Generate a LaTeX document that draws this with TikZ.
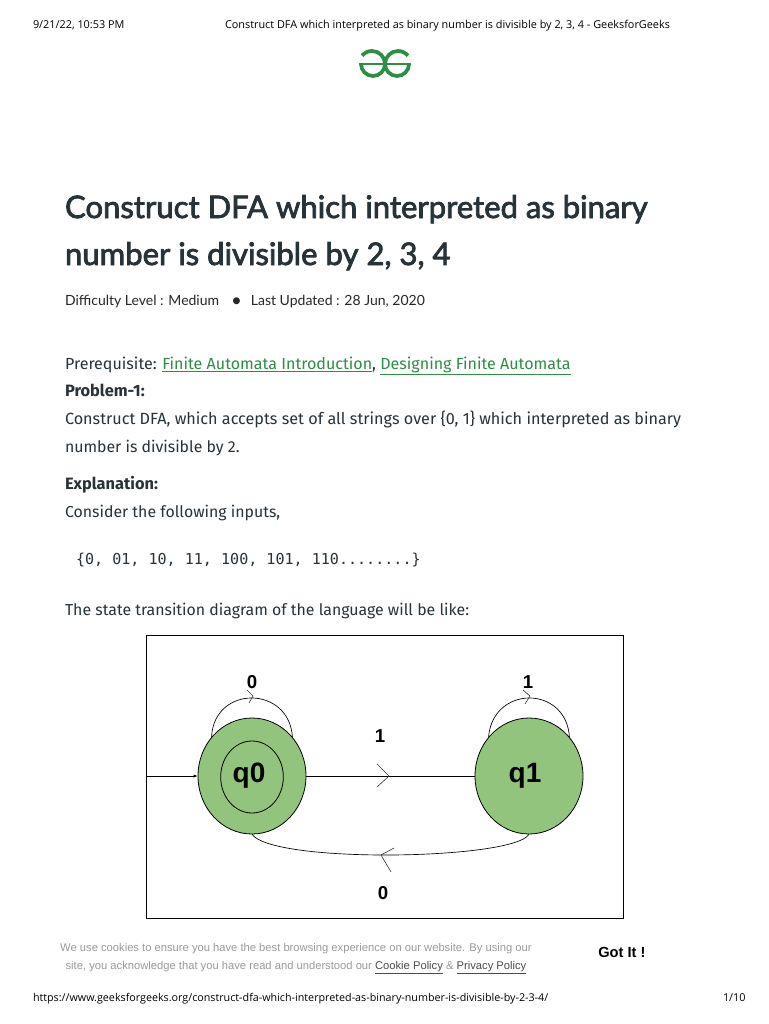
\documentclass[tikz,border=0pt]{standalone}
\usepackage{fontspec}
\usetikzlibrary{shapes.geometric,arrows.meta}
\setmainfont{Fira Sans}
\newfontfamily\titlefont[FakeBold=2.5]{Lato}
\newfontfamily\metafont{Lato}
\newfontfamily\headfont{Open Sans}
\newfontfamily\diagfont{Liberation Sans}
\newfontfamily\codefont{DejaVu Sans Mono}
\definecolor{ink}{HTML}{273239}
\definecolor{gfg}{HTML}{2F8D46}
\definecolor{stategreen}{HTML}{93C47D}
\definecolor{cookie}{HTML}{9A9A9A}
\newcommand{\fs}[1]{\fontsize{#1}{#1}\selectfont}
\newcommand{\lnk}[1]{\textcolor{gfg}{\underline{#1}}}
\tikzset{
  x=0.75pt,y=-0.75pt,
  txt/.style={anchor=base west,inner sep=0pt,outer sep=0pt,text=ink},
  head/.style={txt,text=black,font=\headfont\fs{8.15}},
  titletxt/.style={txt,font=\titlefont\fs{23.3}},
  meta/.style={txt,text=black!85,font=\metafont\fs{10.5}},
  body/.style={txt,font=\fs{11.9}},
  bodyb/.style={txt,font=\bfseries\fs{12.3}},
  code/.style={txt,font=\codefont\fs{11.3}},
  cook/.style={anchor=base,inner sep=0pt,outer sep=0pt,text=cookie,font=\diagfont\fs{8.4}},
  state/.style={ellipse,draw=black,fill=stategreen,line width=0.6pt,minimum width=81pt,minimum height=87pt,inner sep=0pt},
  innerring/.style={ellipse,draw=black,line width=0.6pt,minimum width=47pt,minimum height=54pt,inner sep=0pt},
  statelab/.style={inner sep=0pt,font=\diagfont\bfseries\fs{21}},
  lab/.style={inner sep=0pt,font=\diagfont\bfseries\fs{14}},
  wire/.style={draw=black,line width=0.5pt},
  chev/.style={draw=black!80,line width=0.45pt},
  logo/.style={draw=gfg,line width=2.8pt},
  logobar/.style={draw=gfg,line width=1.3pt}
}
\begin{document}
\begin{tikzpicture}
\useasboundingbox[fill=white] (0,0) rectangle (768,1024);
% header
\node[head] (date) at (33,29) {9/21/22, 10:53 PM};
\node[head] (ptitle) at (225,29) {Construct DFA which interpreted as binary number is divisible by 2, 3, 4 - GeeksforGeeks};
% logo
\draw[logobar] (359,64) -- (411,64);
\draw[logo] (385,64) arc[start angle=0,end angle=180,radius=12];
\draw[logo] (385,64) arc[start angle=0,end angle=-140,radius=13];
\draw[logo] (385,64) arc[start angle=180,end angle=0,radius=12];
\draw[logo] (385,64) arc[start angle=180,end angle=320,radius=13];
% title
\node[titletxt] (t1) at (65,218) {Construct DFA which interpreted as binary};
\node[titletxt] (t2) at (65,265) {number is divisible by 2, 3, 4};
\node[meta] (m) at (65,305) {Difficulty Level : Medium\hspace{10pt}●\hspace{7.5pt}Last Updated : 28 Jun, 2020};
% body
\node[body,font=\fs{12.05}] (p1) at (65,369) {Prerequisite: \lnk{Finite Automata Introduction}, \lnk{Designing Finite Automata}};
\node[bodyb] (p2) at (65,396) {Problem-1:};
\node[body,font=\fs{12.15}] (p3) at (65,424) {Construct DFA, which accepts set of all strings over \{0, 1\} which interpreted as binary};
\node[body] (p4) at (65,452) {number is divisible by 2.};
\node[bodyb] (p5) at (65,489) {Explanation:};
\node[body] (p6) at (65,517) {Consider the following inputs,};
\node[code] (p7) at (76,564) {\{0, 01, 10, 11, 100, 101, 110........\}};
\node[body] (p8) at (65,615) {The state transition diagram of the language will be like:};
% diagram
\node[draw=black,line width=0.6pt,minimum width=357.75pt,minimum height=212.25pt,inner sep=0pt] (frame) at (384.5,776.5) {};
\coordinate (entry) at (146,776);
\node[state] (q0) at (252,776) {};
\node[innerring] (q0i) at (252,777) {};
\node[statelab] (q0t) at (249,776) {q0};
\node[state] (q1) at (529,776) {};
\node[statelab] (q1t) at (525,776) {q1};
\draw[wire,-{Latex[length=3pt,width=2.4pt]}] (entry) -- (q0.west);
\draw[wire] (q0.east) -- (q1.west);
\draw[wire] (q0.136) .. controls (214,685) and (289,685) .. (q0.44);
\draw[wire] (q1.136) .. controls (493,685) and (566,685) .. (q1.44);
\draw[wire] (q1.south) .. controls (520,848) and (450,855) .. (386,855) .. controls (320,855) and (262,848) .. (q0.south);
\draw[chev] (247,690) -- (253,696) -- (249,703);
\draw[chev] (523,690) -- (530,696) -- (525,704);
\draw[chev] (377,764) -- (389,776) -- (377,787);
\draw[chev] (394,848) -- (381,855) -- (391,872);
\node[lab] (l0) at (252,682) {0};
\node[lab] (l1) at (528,682) {1};
\node[lab] (l2) at (380,736) {1};
\node[lab] (l3) at (383,893) {0};
% cookie
\node[cook] (c1) at (296,951) {We use cookies to ensure you have the best browsing experience on our website. By using our};
\node[cook] (c2) at (296,969) {site, you acknowledge that you have read and understood our \textcolor{black!70}{\underline{Cookie Policy}} \& \textcolor{black!70}{\underline{Privacy Policy}}};
\node[anchor=base west,inner sep=0pt,font=\diagfont\bfseries\fs{11}] (got) at (598,957) {Got It !};
% footer
\node[head,font=\headfont\fs{8.05}] (url) at (33,1001) {https://www.geeksforgeeks.org/construct-dfa-which-interpreted-as-binary-number-is-divisible-by-2-3-4/};
\node[head] (pg) at (723,1001) {1/10};
\end{tikzpicture}
\end{document}
